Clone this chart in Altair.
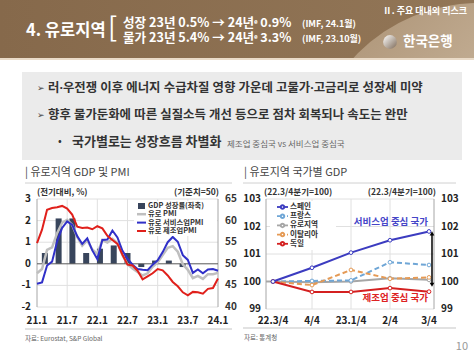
import altair as alt
import pandas as pd

FONT = "Noto Sans CJK KR"
FONT_MIX = "Noto Sans, Noto Sans CJK KR"

# ---------------- data: left chart (euro area GDP & PMI) ----------------
month_labels = ["21.1", "21.2", "21.3", "21.4", "21.5", "21.6", "21.7", "21.8", "21.9", "21.10", "21.11", "21.12",
                "22.1", "22.2", "22.3", "22.4", "22.5", "22.6", "22.7", "22.8", "22.9", "22.10", "22.11", "22.12",
                "23.1", "23.2", "23.3", "23.4", "23.5", "23.6", "23.7", "23.8", "23.9", "23.10", "23.11", "23.12",
                "24.1"]
pmi_comp = [47.8, 48.8, 53.2, 53.8, 57.1, 59.5, 60.2, 59.0, 56.2, 54.2, 55.4, 53.3,
            52.3, 55.5, 54.9, 55.8, 54.8, 52.0, 49.9, 48.9, 48.1, 47.3, 47.8, 49.3,
            50.3, 52.0, 53.7, 54.1, 52.8, 49.9, 48.6, 46.7, 47.2, 46.5, 47.6, 47.6, 47.9]
pmi_serv = [45.4, 45.7, 49.6, 50.5, 55.2, 58.3, 59.8, 59.0, 56.4, 54.6, 55.9, 53.1,
            51.1, 55.5, 55.6, 57.7, 56.1, 53.0, 51.2, 49.8, 48.8, 48.6, 48.5, 49.8,
            50.8, 52.7, 55.0, 56.2, 55.1, 52.0, 50.9, 47.9, 48.7, 47.8, 48.7, 48.8, 48.4]
pmi_mfg = [54.8, 57.9, 62.5, 62.9, 63.1, 63.4, 62.8, 61.4, 58.6, 58.3, 58.4, 58.0,
           58.7, 58.2, 56.5, 55.5, 54.6, 52.1, 49.8, 49.6, 48.4, 46.4, 47.1, 47.8,
           48.8, 48.5, 47.3, 45.8, 44.8, 43.4, 42.7, 43.5, 43.4, 43.1, 44.2, 44.4, 46.6]
gdp_quarters = ["21Q1", "21Q2", "21Q3", "21Q4", "22Q1", "22Q2", "22Q3", "22Q4", "23Q1", "23Q2", "23Q3", "23Q4"]
gdp_growth = [0.5, 2.1, 2.1, 0.5, 0.7, 0.85, 0.5, -0.15, 0.15, 0.15, -0.15, 0.0]
left_xticks = ["21.1", "21.7", "22.1", "22.7", "23.1", "23.7", "24.1"]
left_yticks = [-2, -1, 0, 1, 2, 3]
right_yticks = [40, 45, 50, 55, 60, 65]

# ---------------- data: right chart (GDP by country) ----------------
r_quarters = ["22.3/4", "4/4", "23.1/4", "2/4", "3/4"]
spain = [100.0, 100.5, 101.05, 101.5, 101.82]
france = [100.0, 100.02, 100.04, 100.7, 100.6]
euro = [100.0, 99.97, 100.0, 100.12, 100.06]
italy = [100.0, 99.87, 100.42, 100.1, 100.15]
germany = [100.0, 99.62, 99.62, 99.76, 99.63]
r_yticks = [99, 100, 101, 102, 103]
arrow_top, arrow_bottom = 101.75, 99.88

# ---------------- helpers ----------------
one = pd.DataFrame({"k": [0]})


def sc(d, r):
    return alt.Scale(domain=d, range=r, nice=False, zero=False)


LXS = lambda: sc([0, 36], [37, 218])
LYS = lambda: sc([-2, 3], [307, 199])
LY2S = lambda: sc([40, 65], [307, 199])
RXS = lambda: sc([0, 4], [273, 429])
RYS = lambda: sc([99, 103], [309, 199])


def T(s, x, y, size=10, color="#333333", weight="normal", align="left", baseline="middle", font=FONT):
    return alt.Chart(one).mark_text(text=s, font=font, fontSize=size, color=color, fontWeight=weight,
                                    align=align, baseline=baseline).encode(x=alt.value(x), y=alt.value(y))


def R(x, x2, y, y2, color):
    return alt.Chart(one).mark_rect(color=color).encode(x=alt.value(x), x2=alt.value(x2),
                                                        y=alt.value(y), y2=alt.value(y2))


def H(x, x2, y, color, w=1, dash=None):
    kw = {"strokeDash": dash} if dash else {}
    return alt.Chart(one).mark_rule(color=color, strokeWidth=w, **kw).encode(
        x=alt.value(x), x2=alt.value(x2), y=alt.value(y))


L = []

# ---------------- header ----------------
L.append(alt.Chart(one).mark_rect(color=alt.Gradient(
    gradient="linear", x1=0, y1=0, x2=1, y2=0,
    stops=[alt.GradientStop(color="#86694b", offset=0), alt.GradientStop(color="#927657", offset=1)]
)).encode(x=alt.value(0), x2=alt.value(474), y=alt.value(0), y2=alt.value(58)))
L.append(alt.Chart(one).mark_circle(size=117000, opacity=1, color=alt.Gradient(
    gradient="linear", x1=0, y1=0, x2=1, y2=1,
    stops=[alt.GradientStop(color="#a88e70", offset=0), alt.GradientStop(color="#c9b59c", offset=0.45)]
)).encode(x=alt.value(479), y=alt.value(174)))
L.append(R(0, 474, 58, 355, "white"))
L.append(H(0, 474, 59, "#eadbc8", 2))
L.append(T("4. 유로지역", 26, 31, size=16.5, color="white", weight="bold"))
L.append(T("[", 108, 29, size=27, color="white"))
L.append(T("성장 23년 0.5% → 24년ᵉ 0.9%", 123, 23, size=12.6, color="white", weight="bold"))
L.append(T("(IMF, 24.1월)", 302, 24, size=9, color="white", weight="bold"))
L.append(T("물가 23년 5.4% → 24년ᵉ 3.3%", 123, 38, size=12.6, color="white", weight="bold"))
L.append(T("(IMF, 23.10월)", 302, 39, size=9, color="white", weight="bold"))
L.append(T("Ⅱ. 주요 대내외 리스크", 467, 11, size=9, color="white", weight="bold", align="right"))
L.append(alt.Chart(one).mark_circle(size=190, opacity=1, color=alt.Gradient(
    gradient="linear", x1=0, y1=0, x2=1, y2=1,
    stops=[alt.GradientStop(color="#ffffff", offset=0), alt.GradientStop(color="#7d6a58", offset=1)]
)).encode(x=alt.value(390), y=alt.value(42)))
L.append(T("한국은행", 403, 42, size=13.5, color="white", weight="bold"))

# ---------------- bullet box ----------------
L.append(R(22, 462, 72, 160, "#ebebeb"))
L.append(T("➢", 37, 88, size=9, color="#444444"))
L.append(T("러·우전쟁 이후 에너지 수급차질 영향 가운데 고물가·고금리로 성장세 미약", 48, 88,
           size=12.4, weight="bold", font=FONT_MIX))
L.append(T("➢", 37, 115, size=9, color="#444444"))
L.append(T("향후 물가둔화에 따른 실질소득 개선 등으로 점차 회복되나 속도는 완만", 48, 115,
           size=12.4, weight="bold", font=FONT_MIX))
L.append(T("•", 58, 142, size=11, color="#333333"))
L.append(T("국가별로는 성장흐름 차별화", 72, 142, size=13, weight="bold"))
L.append(T("제조업 중심국 vs 서비스업 중심국", 227, 144, size=8.5, color="#666666"))

# ---------------- left chart ----------------
L.append(T("| 유로지역 GDP 및 PMI", 25, 173, size=11, color="#444444"))
L.append(H(25, 232, 183, "#d0d0d0", 1))
L.append(H(25, 232, 329, "#e2e2e2", 2))
L.append(T("자료: Eurostat, S&P Global", 25, 339, size=6.5, color="#666666"))

L.append(alt.Chart(pd.DataFrame({"v": [-2, -1, 1, 2, 3]})).mark_rule(color="#e0e0e0").encode(
    y=alt.Y("v:Q", scale=LYS(), axis=None), x=alt.value(37), x2=alt.value(218)))
L.append(alt.Chart(pd.DataFrame({"m": [6, 12, 18, 24, 30]})).mark_rule(color="#e0e0e0").encode(
    x=alt.X("m:Q", scale=LXS(), axis=None), y=alt.value(199), y2=alt.value(307)))
L.append(alt.Chart(pd.DataFrame({"m": [0, 36]})).mark_rule(color="#a6a6a6").encode(
    x=alt.X("m:Q", scale=LXS(), axis=None), y=alt.value(199), y2=alt.value(307)))

gdf = pd.DataFrame({"q": gdp_quarters, "i": range(len(gdp_quarters)), "v": gdp_growth})
L.append(alt.Chart(gdf).transform_calculate(m="0.6 + 2.9 * datum.i").mark_bar(size=6, color="#38455c").encode(
    x=alt.X("m:Q", scale=LXS(), axis=None),
    y=alt.Y("v:Q", scale=LYS(), axis=None),
    y2=alt.datum(0)))
L.append(alt.Chart(pd.DataFrame({"v": [0]})).mark_rule(color="#595959", strokeWidth=1).encode(
    y=alt.Y("v:Q", scale=LYS(), axis=None), x=alt.value(37), x2=alt.value(218)))

ldf = pd.DataFrame({"m": range(len(month_labels)), "label": month_labels,
                    "comp": pmi_comp, "serv": pmi_serv, "mfg": pmi_mfg})
for col, colr, w in [("comp", "#bfbfbf", 2.5), ("serv", "#3030c8", 2), ("mfg", "#e0201b", 2)]:
    L.append(alt.Chart(ldf).mark_line(color=colr, strokeWidth=w).encode(
        x=alt.X("m:Q", scale=LXS(), axis=None),
        y=alt.Y(f"{col}:Q", scale=LY2S(), axis=None)))

# legend (left)
L.append(R(134, 217, 201, 236, "white"))
L.append(R(138, 145, 203, 209, "#38455c"))
L.append(T("GDP 성장률(좌축)", 148, 205.8, size=7.3, weight="bold", color="#333333"))
L.append(H(137, 146, 214.2, "#bfbfbf", 2.5))
L.append(T("유로 PMI", 148, 214.2, size=7.3, weight="bold", color="#333333"))
L.append(H(137, 146, 222.6, "#3030c8", 2))
L.append(T("유로 서비스업PMI", 148, 222.6, size=7.3, weight="bold", color="#333333"))
L.append(H(137, 146, 231, "#e0201b", 2))
L.append(T("유로 제조업PMI", 148, 231, size=7.3, weight="bold", color="#333333"))

# axes text (left)
L.append(T("(전기대비, %)", 37, 192, size=8.5, weight="bold", color="#333333"))
L.append(T("(기준치=50)", 219, 192, size=8.5, weight="bold", color="#333333", align="right"))
L.append(alt.Chart(pd.DataFrame({"v": left_yticks, "t": [str(v) for v in left_yticks]})).mark_text(
    font=FONT, fontSize=10, fontWeight="bold", color="#222222", align="right").encode(
    y=alt.Y("v:Q", scale=LYS(), axis=None), x=alt.value(31), text="t:N"))
L.append(alt.Chart(pd.DataFrame({"v": right_yticks, "t": [str(v) for v in right_yticks]})).mark_text(
    font=FONT, fontSize=10, fontWeight="bold", color="#333333", align="left").encode(
    y=alt.Y("v:Q", scale=LY2S(), axis=None), x=alt.value(225), text="t:N"))
L.append(alt.Chart(pd.DataFrame({"m": [0, 6, 12, 18, 24, 30, 36], "t": left_xticks})).mark_text(
    font=FONT, fontSize=10, fontWeight="bold", color="#222222", align="center").encode(
    x=alt.X("m:Q", scale=LXS(), axis=None), y=alt.value(321), text="t:N"))

# ---------------- right chart ----------------
L.append(T("| 유로지역 국가별 GDP", 244, 173, size=11, color="#444444"))
L.append(H(243, 456, 183, "#d0d0d0", 1))
L.append(H(243, 456, 328, "#e2e2e2", 2))
L.append(T("자료: 통계청", 244, 338, size=6.5, color="#666666"))

L.append(alt.Chart(pd.DataFrame({"v": [99, 101, 102, 103]})).mark_rule(color="#e0e0e0").encode(
    y=alt.Y("v:Q", scale=RYS(), axis=None), x=alt.value(266), x2=alt.value(434)))
L.append(alt.Chart(pd.DataFrame({"i": [1, 2, 3]})).mark_rule(color="#e0e0e0").encode(
    x=alt.X("i:Q", scale=RXS(), axis=None), y=alt.value(199), y2=alt.value(309)))
L.append(alt.Chart(one).mark_rule(color="#a6a6a6").encode(x=alt.value(266), y=alt.value(199), y2=alt.value(309)))
L.append(alt.Chart(one).mark_rule(color="#a6a6a6").encode(x=alt.value(434), y=alt.value(199), y2=alt.value(309)))

rdf = pd.DataFrame({"i": range(5), "q": r_quarters, "spain": spain, "france": france,
                    "euro": euro, "italy": italy, "germany": germany})
series = [("euro", "#a6a6a6", None),
          ("france", "#6fa6d6", [5, 3]),
          ("italy", "#e59a55", [5, 3]),
          ("germany", "#d42020", None),
          ("spain", "#3c3cc0", None)]
L.append(H(266, 273, 281.5, "#a6a6a6", 2))
for col, colr, dash in series:
    kw = {"strokeDash": dash} if dash else {}
    L.append(alt.Chart(rdf).mark_line(color=colr, strokeWidth=2, **kw).encode(
        x=alt.X("i:Q", scale=RXS(), axis=None), y=alt.Y(f"{col}:Q", scale=RYS(), axis=None)))
    L.append(alt.Chart(rdf).mark_point(color=colr, fill="white", filled=False, size=14, strokeWidth=1, opacity=1).encode(
        x=alt.X("i:Q", scale=RXS(), axis=None), y=alt.Y(f"{col}:Q", scale=RYS(), axis=None)))

# legend (right)
L.append(R(270, 336, 201, 250, "white"))
leg = [("스페인", "#3c3cc0", None), ("프랑스", "#6fa6d6", [3, 2]), ("유로지역", "#a6a6a6", None),
       ("이탈리아", "#e59a55", [3, 2]), ("독일", "#d42020", None)]
for k, (name, colr, dash) in enumerate(leg):
    yy = 207 + 9.2 * k
    L.append(H(277, 288, yy, colr, 1.8, dash))
    L.append(alt.Chart(one).mark_point(color=colr, fill="white", filled=False, size=12, opacity=1).encode(
        x=alt.value(282.5), y=alt.value(yy)))
    L.append(T(name, 290, yy, size=7.6, weight="bold", color="#333333"))

# arrow + annotations
adf = pd.DataFrame({"top": [arrow_top], "bottom": [arrow_bottom]})
L.append(alt.Chart(adf).mark_rule(color="black", strokeWidth=1.5).encode(
    x=alt.value(432), y=alt.Y("top:Q", scale=RYS(), axis=None), y2="bottom:Q"))
L.append(alt.Chart(adf).mark_point(shape="triangle-up", filled=True, color="black", size=22, opacity=1).encode(
    x=alt.value(432), y=alt.Y("top:Q", scale=RYS(), axis=None)))
L.append(alt.Chart(adf).mark_point(shape="triangle-down", filled=True, color="black", size=22, opacity=1).encode(
    x=alt.value(432), y=alt.Y("bottom:Q", scale=RYS(), axis=None)))
L.append(T("서비스업 중심 국가", 428, 222, size=9.5, weight="bold", color="#4545c8", align="right"))
L.append(T("제조업 중심 국가", 428, 298, size=9.5, weight="bold", color="#dd2222", align="right"))

# axes text (right)
L.append(T("(22.3/4분기=100)", 264, 192, size=8.5, weight="bold", color="#333333"))
L.append(T("(22.3/4분기=100)", 436, 192, size=8.5, weight="bold", color="#333333", align="right"))
L.append(alt.Chart(pd.DataFrame({"v": r_yticks, "t": [str(v) for v in r_yticks]})).mark_text(
    font=FONT, fontSize=10, fontWeight="bold", color="#222222", align="right").encode(
    y=alt.Y("v:Q", scale=RYS(), axis=None), x=alt.value(261), text="t:N"))
L.append(alt.Chart(pd.DataFrame({"v": r_yticks, "t": [str(v) for v in r_yticks]})).mark_text(
    font=FONT, fontSize=10, fontWeight="bold", color="#222222", align="left").encode(
    y=alt.Y("v:Q", scale=RYS(), axis=None), x=alt.value(441), text="t:N"))
L.append(alt.Chart(rdf).mark_text(font=FONT, fontSize=10, fontWeight="bold", color="#222222", align="center").encode(
    x=alt.X("i:Q", scale=RXS(), axis=None), y=alt.value(321), text="q:N"))

# page number
L.append(T("10", 468, 347, size=11, color="#999999", align="right"))

chart = alt.layer(*L).resolve_scale(x="independent", y="independent").properties(
    width=474, height=355, autosize=alt.AutoSizeParams(type="none"), padding=0, background="white"
).configure_view(stroke=None)

chart.save("out.html", embed_options={"renderer": "svg", "actions": False})
